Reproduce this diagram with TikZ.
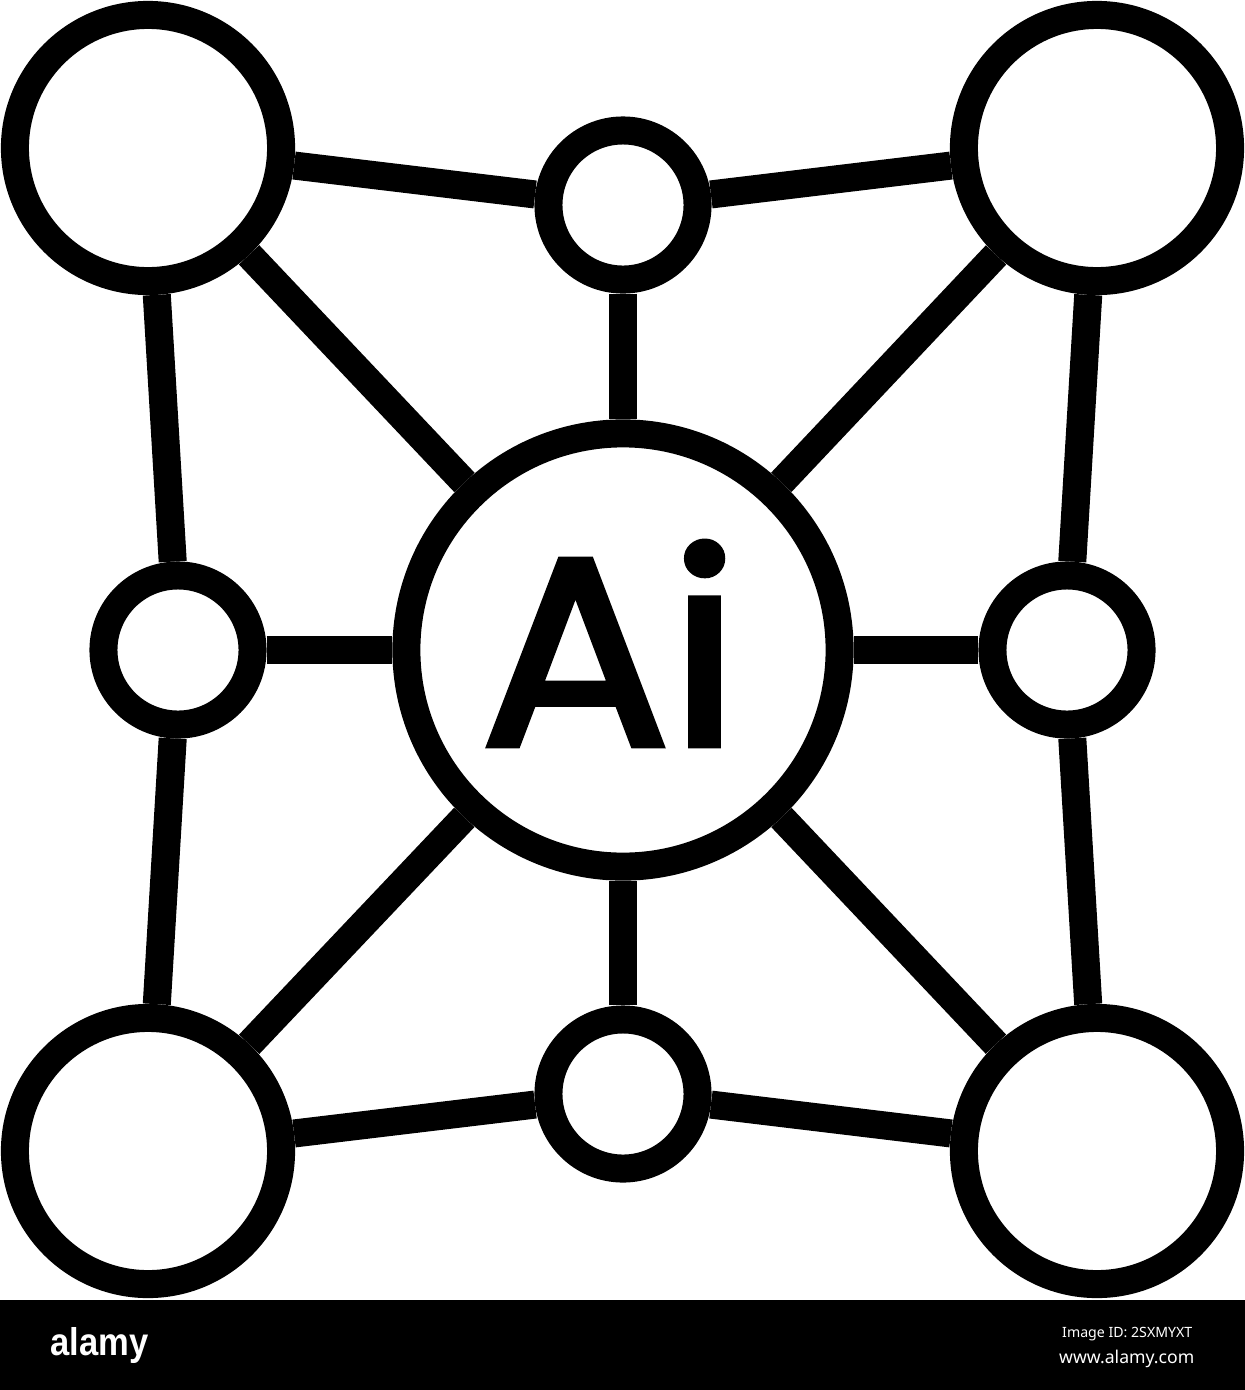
\documentclass[tikz,border=0pt]{standalone}
\usepackage{fontspec}
\newfontfamily\aifont{Poppins}[FakeBold=2.5]
\newfontfamily\notosans{Noto Sans}
\newfontfamily\libsans{Liberation Sans}
\begin{document}
\begin{tikzpicture}[x=0.01cm,y=-0.01cm,
  ring/.style={circle,draw=black,line width=7.97pt,inner sep=0pt},
  bigring/.style={ring,minimum size=2.66cm},
  smallring/.style={ring,minimum size=1.49cm},
  hubring/.style={ring,minimum size=4.33cm},
  link/.style={draw=black,line width=7.97pt,line cap=butt},
  bartext/.style={text=white,inner sep=0pt}]
\useasboundingbox (0,0) rectangle (1245,1390);
\fill[white] (0,0) rectangle (1245,1390);
% nodes
\node[bigring] (tl) at (148,148) {};
\node[bigring] (tr) at (1097,148) {};
\node[bigring] (bl) at (148,1151) {};
\node[bigring] (br) at (1097,1151) {};
\node[smallring] (top) at (623,205) {};
\node[smallring] (bot) at (623,1094) {};
\node[smallring] (lft) at (178,650) {};
\node[smallring] (rgt) at (1067,650) {};
\node[hubring] (hub) at (623,650) {};
\node[inner sep=0pt,anchor=base] (ailabel) at (610,745) {\resizebox{2.58cm}{2.03cm}{\aifont Ai}};
% connectors
\path[link] (tl) -- (top);
\path[link] (top) -- (tr);
\path[link] (tl) -- (lft);
\path[link] (tr) -- (rgt);
\path[link] (lft) -- (bl);
\path[link] (rgt) -- (br);
\path[link] (bl) -- (bot);
\path[link] (bot) -- (br);
\path[link] (tl) -- (hub);
\path[link] (tr) -- (hub);
\path[link] (bl) -- (hub);
\path[link] (br) -- (hub);
\path[link] (top) -- (hub);
\path[link] (bot) -- (hub);
\path[link] (lft) -- (hub);
\path[link] (rgt) -- (hub);
% watermark bar
\fill[black] (0,1300) rectangle (1245,1390);
\node[bartext,anchor=base west] (alamy) at (50,1355) {\resizebox{0.98cm}{0.28cm}{\libsans\bfseries alamy}};
\node[bartext,anchor=base east] (imgid) at (1193,1337) {\resizebox{1.30cm}{!}{\notosans Image ID: 2SXMYXT}};
\node[bartext,anchor=base east] (www) at (1195,1363) {\resizebox{1.35cm}{!}{\notosans\bfseries www.alamy.com}};
\end{tikzpicture}
\end{document}
